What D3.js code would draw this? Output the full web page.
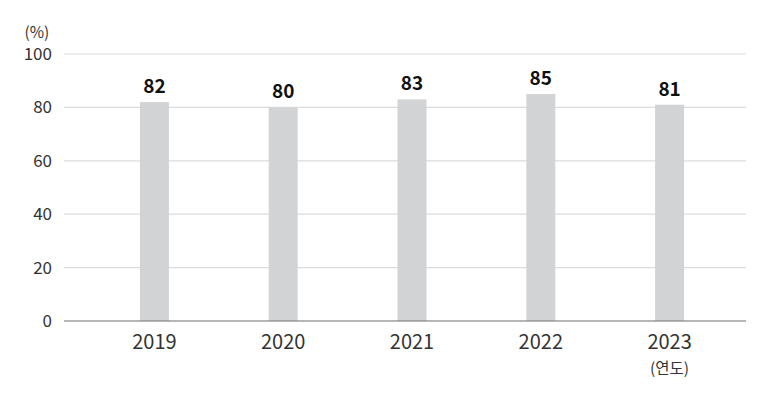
<!DOCTYPE html>
<html>
<head>
<meta charset="utf-8">
<script src="https://cdn.jsdelivr.net/npm/d3@7"></script>
<style>
  body { margin: 0; background: #fff; }
  .chart { width: 768px; height: 399px; }
  text { font-family: "Noto Sans CJK KR", "Noto Sans", sans-serif; fill: #222; }
</style>
</head>
<body>
<div class="chart"></div>
<script>
// data
var years = ["2019", "2020", "2021", "2022", "2023"];
var rates = [82, 80, 83, 85, 81];
var yTicks = [0, 20, 40, 60, 80, 100];

var svg = d3.select(".chart").append("svg")
    .attr("width", 768)
    .attr("height", 399);

var plotLeft = 64, plotRight = 746, plotTop = 54, plotBottom = 321;

var x = d3.scaleBand()
    .domain(years)
    .range([90, 734])
    .paddingInner(0.775)
    .paddingOuter(0.3875);

var y = d3.scaleLinear()
    .domain([0, 100])
    .range([plotBottom, plotTop]);

// gridlines
svg.append("g")
    .selectAll("line")
    .data(yTicks.filter(function(d) { return d > 0; }))
    .enter().append("line")
    .attr("x1", plotLeft)
    .attr("x2", plotRight)
    .attr("y1", function(d) { return y(d); })
    .attr("y2", function(d) { return y(d); })
    .attr("stroke", "#dcdcdc")
    .attr("stroke-width", 1.2);

// y labels
svg.append("g")
    .selectAll("text")
    .data(yTicks)
    .enter().append("text")
    .attr("x", 52)
    .attr("y", function(d) { return y(d); })
    .attr("dy", "0.35em")
    .attr("text-anchor", "end")
    .style("font-size", "17px")
    .style("fill", "#333")
    .text(function(d) { return d; });

svg.append("text")
    .attr("x", 37)
    .attr("y", 38)
    .attr("text-anchor", "middle")
    .style("font-size", "15.5px")
    .style("fill", "#333")
    .text("(%)");

// bars
svg.append("g")
    .selectAll("rect")
    .data(rates)
    .enter().append("rect")
    .attr("x", function(d, i) { return x(years[i]); })
    .attr("y", function(d) { return y(d); })
    .attr("width", x.bandwidth())
    .attr("height", function(d) { return y(0) - y(d); })
    .attr("fill", "#d1d3d4");

// baseline
svg.append("line")
    .attr("x1", plotLeft)
    .attr("x2", plotRight)
    .attr("y1", y(0))
    .attr("y2", y(0))
    .attr("stroke", "#6d6e71")
    .attr("stroke-width", 1.2);

// value labels
svg.append("g")
    .selectAll("text")
    .data(rates)
    .enter().append("text")
    .attr("x", function(d, i) { return x(years[i]) + x.bandwidth() / 2; })
    .attr("y", function(d) { return y(d) - 9; })
    .attr("text-anchor", "middle")
    .style("font-size", "19px")
    .style("font-weight", "bold")
    .style("fill", "#111")
    .text(function(d) { return d; });

// x labels
svg.append("g")
    .selectAll("text")
    .data(years)
    .enter().append("text")
    .attr("x", function(d) { return x(d) + x.bandwidth() / 2; })
    .attr("y", 349)
    .attr("text-anchor", "middle")
    .style("font-size", "20px")
    .style("fill", "#333")
    .text(function(d) { return d; });

svg.append("text")
    .attr("x", x("2023") + x.bandwidth() / 2)
    .attr("y", 374)
    .attr("text-anchor", "middle")
    .style("font-size", "15.5px")
    .style("fill", "#333")
    .text("(연도)");
</script>
</body>
</html>
